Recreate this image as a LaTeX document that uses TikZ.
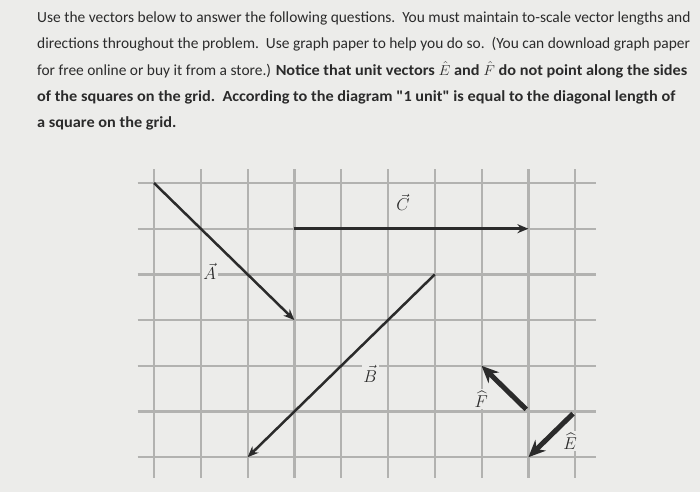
\documentclass[tikz,border=0pt]{standalone}
\usepackage{amsmath}
\usepackage{graphicx}
\usepackage{fontspec}
\setmainfont{Carlito}[Ligatures=TeXOff]
\usepackage{tikz}
\usetikzlibrary{calc,arrows.meta,positioning}
\definecolor{paper}{HTML}{ECECEA}
\definecolor{gridgray}{HTML}{B2B2B0}
\definecolor{ink}{HTML}{2B2B2B}
\newcommand{\wbf}[1]{\scalebox{1.055}[1]{\textbf{#1}}}

\begin{document}
\begin{tikzpicture}[x=1bp,y=-1bp,
    line/.style={anchor=west,inner sep=0pt,text=ink,font=\fontsize{15.5}{18}\selectfont},
    vec/.style={ink,line width=2.5bp,-{Stealth[length=11bp,width=9bp]}},
    unitvec/.style={ink,line width=5bp,-{Stealth[length=17bp,width=15bp]}},
    lbl/.style={fill=paper,inner sep=1.5pt,text=ink,font=\fontsize{17}{19}\selectfont}]
      \fill[paper] (0,0) rectangle (700,492);
      \useasboundingbox (0,0) rectangle (700,492);

      \node[line] (t1) at (37,18) {Use the vectors below to answer the following questions.\ \ You must maintain to-scale vector lengths and};
      \node[line] (t2) at (37,44) {directions throughout the problem.\ \ Use graph paper to help you do so.\ \ (You can download graph paper};
      \node[line] (t3) at (37,70) {for free online or buy it from a store.) \wbf{Notice that unit vectors $\hat{E}$ and $\hat{F}$ do not point along the sides}};
      \node[line] (t4) at (37,97) {\wbf{of the squares on the grid.\ \ According to the diagram "1 unit" is equal to the diagonal length of}};
      \node[line] (t5) at (37,123) {\wbf{a square on the grid.}};

      \begin{scope}[shift={(154,183)},x=46.8bp,y=-45.7bp]
        % grid
        \foreach \i in {0,...,9}
          \draw[gridgray,line width=2.2bp] (\i,-0.3) -- (\i,6.45);
        \foreach \j in {0,...,6}
          \draw[gridgray,line width=2.2bp] (-0.35,\j) -- (9.45,\j);

        \coordinate (A0) at (0,0);
        \coordinate (A1) at (3,3);
        \coordinate (C0) at (3,1);
        \coordinate (C1) at (8,1);
        \coordinate (B0) at (6,2);
        \coordinate (B1) at (2,6);
        \coordinate (F0) at (8,5);
        \coordinate (F1) at (7,4);
        \coordinate (E0) at (9,5);
        \coordinate (E1) at (8,6);

        \draw[vec] (A0) -- (A1);
        \draw[vec] (C0) -- (C1);
        \draw[vec] (B0) -- (B1);
        \draw[unitvec,shorten <=3bp] (F0) -- (F1);
        \draw[unitvec,shorten <=3bp] (E0) -- (E1);

        \node[lbl] (a) at (1.19,1.93) {$\vec{A}$};
        \node[lbl,fill=none] (c) at (5.32,0.42) {$\vec{C}$};
        \node[lbl] (b) at (4.62,4.18) {$\vec{B}$};
        \node[lbl] (f) at (6.99,4.73) {$\widehat{F}$};
        \node[lbl] (e) at (8.89,5.65) {$\widehat{E}$};
      \end{scope}
    \end{tikzpicture}
\end{document}
